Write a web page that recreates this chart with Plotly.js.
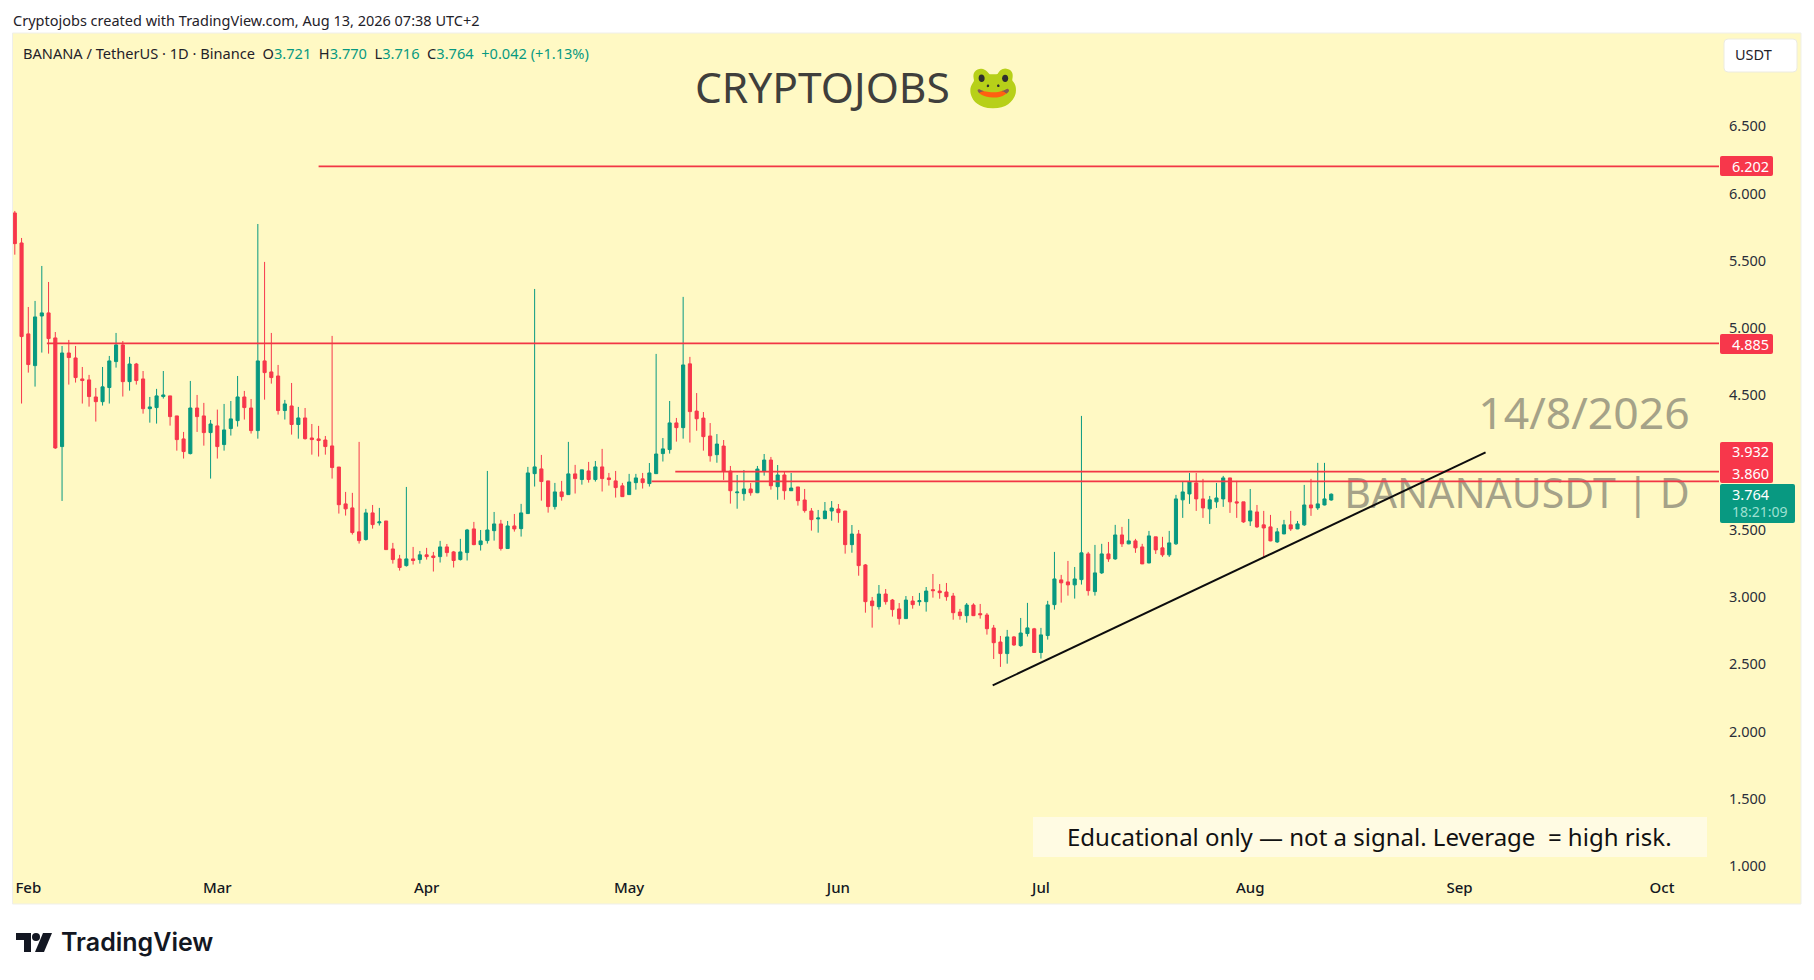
<!DOCTYPE html>
<html><head><meta charset="utf-8">
<script src="https://cdn.plot.ly/plotly-3.0.1.min.js"></script>
<style>html,body{margin:0;padding:0;background:#fff;overflow:hidden}#c{width:1814px;height:980px}</style>
</head><body><div id="c"></div>
<script>
const startDate = '2026-01-30';
const open = [5.855,5.632,4.956,4.720,5.089,5.112,4.926,4.118,4.814,4.777,4.621,4.614,4.487,4.452,4.557,4.750,4.874,4.601,4.732,4.621,
4.400,4.408,4.490,4.495,4.346,4.175,4.066,4.405,4.346,4.222,4.272,4.133,4.252,4.311,4.487,4.405,4.237,4.755,4.673,4.643,
4.386,4.420,4.282,4.331,4.182,4.175,4.167,4.123,3.966,3.692,3.662,3.484,3.427,3.625,3.551,3.565,3.357,3.283,3.233,3.283,
3.278,3.313,3.305,3.300,3.372,3.335,3.278,3.330,3.506,3.389,3.419,3.493,3.543,3.360,3.528,3.508,3.620,3.917,3.952,3.863,
3.672,3.781,3.761,3.915,3.873,3.937,3.873,3.967,3.885,3.863,3.826,3.761,3.850,3.878,3.843,3.917,4.066,4.096,4.294,4.259,
4.733,4.382,4.330,4.197,4.058,4.122,3.936,3.775,3.768,3.803,3.775,3.936,4.018,3.820,3.907,3.790,3.818,3.721,3.639,3.580,
3.582,3.639,3.654,3.639,3.389,3.468,3.238,2.970,2.928,3.022,2.977,2.911,2.839,2.970,2.965,2.965,3.054,3.044,3.037,3.007,
2.888,2.861,2.940,2.876,2.866,2.769,2.665,2.579,2.703,2.638,2.728,2.763,2.587,2.713,2.943,3.127,3.112,3.090,3.129,3.320,
3.040,3.179,3.320,3.283,3.461,3.395,3.417,3.372,3.253,3.447,3.365,3.313,3.395,3.722,3.766,3.848,3.729,3.655,3.707,3.729,
3.885,3.707,3.707,3.565,3.632,3.536,3.521,3.409,3.469,3.536,3.506,3.536,3.684,3.662,3.684,3.721];
const high = [5.870,5.669,5.156,5.201,5.461,5.342,4.970,4.866,4.911,4.866,4.710,4.651,4.554,4.710,4.792,4.963,4.903,4.785,4.740,4.680,
4.487,4.547,4.680,4.495,4.346,4.227,4.606,4.502,4.443,4.316,4.393,4.435,4.457,4.643,4.532,4.472,5.773,5.491,4.963,4.725,
4.465,4.591,4.413,4.405,4.286,4.272,4.197,4.941,3.966,3.781,3.774,4.153,3.655,3.684,3.662,3.565,3.402,3.313,3.818,3.372,
3.342,3.365,3.335,3.417,3.394,3.342,3.432,3.506,3.558,3.498,3.937,3.632,3.573,3.565,3.617,3.692,3.967,5.290,4.056,3.863,
3.848,3.863,4.153,3.982,3.945,4.004,4.011,4.101,3.922,3.937,3.848,3.915,3.915,3.922,3.996,4.807,4.182,4.457,4.331,5.231,
4.785,4.516,4.375,4.293,4.211,4.167,3.974,3.907,3.944,3.847,3.974,4.063,4.041,3.981,3.929,3.922,3.818,3.803,3.661,3.647,
3.706,3.713,3.691,3.639,3.535,3.498,3.245,3.000,3.089,3.059,2.985,2.955,3.007,3.007,3.030,3.074,3.171,3.096,3.104,3.030,
2.911,2.955,2.953,2.948,2.881,2.792,2.710,2.755,2.710,2.844,2.956,2.770,2.770,2.971,3.335,3.164,3.268,3.223,4.346,3.335,
3.387,3.395,3.409,3.536,3.521,3.580,3.432,3.395,3.491,3.447,3.447,3.491,3.759,3.855,3.922,3.922,3.878,3.751,3.848,3.900,
3.885,3.863,3.707,3.803,3.684,3.640,3.610,3.513,3.573,3.640,3.565,3.833,3.878,3.997,3.997,3.770];
const low = [5.545,4.438,4.668,4.564,4.817,4.809,4.101,3.714,4.579,4.594,4.438,4.415,4.304,4.423,4.438,4.705,4.490,4.534,4.579,4.363,
4.296,4.289,4.475,4.274,4.088,4.029,4.060,4.227,4.125,3.880,4.029,4.088,4.200,4.267,4.319,4.215,4.177,4.467,4.586,4.356,
4.319,4.207,4.177,4.170,4.058,4.044,4.058,3.880,3.620,3.605,3.464,3.397,3.419,3.508,3.531,3.350,3.248,3.196,3.226,3.241,
3.248,3.278,3.189,3.256,3.300,3.219,3.271,3.271,3.385,3.345,3.397,3.419,3.345,3.357,3.486,3.449,3.617,3.821,3.716,3.627,
3.650,3.716,3.758,3.769,3.835,3.850,3.858,3.784,3.828,3.739,3.743,3.758,3.798,3.806,3.821,3.914,4.007,4.066,4.155,4.177,
4.148,4.236,4.088,4.006,3.998,3.870,3.694,3.656,3.716,3.753,3.772,3.902,3.798,3.723,3.723,3.788,3.679,3.627,3.493,3.478,
3.580,3.567,3.552,3.322,3.329,3.158,2.883,2.772,2.906,2.943,2.854,2.794,2.836,2.913,2.935,2.891,2.995,2.987,2.972,2.831,
2.831,2.809,2.858,2.839,2.720,2.539,2.480,2.504,2.636,2.630,2.706,2.584,2.542,2.683,2.906,2.958,3.010,2.988,3.092,3.010,
3.010,3.171,3.261,3.276,3.372,3.392,3.328,3.244,3.250,3.320,3.298,3.298,3.387,3.588,3.692,3.640,3.588,3.543,3.662,3.670,
3.625,3.588,3.551,3.528,3.513,3.290,3.414,3.402,3.466,3.491,3.504,3.528,3.603,3.647,3.681,3.716];
const close = [5.627,4.936,4.728,5.082,5.112,4.921,4.108,4.814,4.780,4.631,4.609,4.490,4.452,4.562,4.755,4.874,4.601,4.732,4.609,4.400,
4.413,4.495,4.502,4.341,4.170,4.081,4.405,4.341,4.222,4.286,4.118,4.242,4.324,4.487,4.408,4.237,4.755,4.668,4.631,4.386,
4.435,4.282,4.331,4.177,4.170,4.163,4.118,3.962,3.686,3.655,3.479,3.419,3.625,3.538,3.558,3.352,3.278,3.219,3.283,3.271,
3.313,3.300,3.293,3.372,3.330,3.271,3.335,3.498,3.389,3.417,3.498,3.543,3.360,3.528,3.506,3.625,3.922,3.967,3.858,3.672,
3.781,3.746,3.915,3.880,3.945,3.873,3.967,3.880,3.873,3.813,3.746,3.855,3.885,3.850,3.922,4.063,4.101,4.294,4.259,4.725,
4.378,4.325,4.192,4.050,4.137,3.936,3.790,3.780,3.803,3.775,3.951,4.018,3.827,3.907,3.790,3.810,3.716,3.642,3.575,3.587,
3.639,3.661,3.627,3.389,3.468,3.233,2.965,2.935,3.022,2.965,2.906,2.839,2.977,2.943,2.972,3.044,3.047,3.032,3.002,2.883,
2.861,2.940,2.861,2.868,2.764,2.660,2.579,2.703,2.643,2.732,2.770,2.587,2.718,2.941,3.134,3.105,3.090,3.134,3.328,3.047,
3.179,3.320,3.283,3.461,3.395,3.417,3.365,3.246,3.454,3.350,3.313,3.402,3.729,3.781,3.858,3.729,3.662,3.722,3.736,3.885,
3.707,3.699,3.558,3.640,3.521,3.513,3.417,3.484,3.536,3.506,3.543,3.684,3.662,3.692,3.729,3.764];
const dates = open.map((_, i) => new Date(Date.parse(startDate + 'T00:00:00Z') + i * 864e5).toISOString().slice(0, 10));

const monthTicks = ['2026-02-01','2026-03-01','2026-04-01','2026-05-01','2026-06-01','2026-07-01','2026-08-01','2026-09-01','2026-10-01'];
const monthLabels = ['Feb','Mar','Apr','May','Jun','Jul','Aug','Sep','Oct'];
const priceTicks = [1,1.5,2,2.5,3,3.5,4,4.5,5,5.5,6,6.5];
const priceLabels = ['1.000','1.500','2.000','2.500','3.000','3.500','4.000','4.500','5.000','5.500','6.000','6.500'];
const xRange = ['2026-01-29 17:36','2026-10-09 10:30'];
const yRange = [0.970,7.193];
const levelRight = '2026-10-09 10:30';
const levels = [
  {price:6.202, from:'2026-03-16 00:00'},
  {price:4.885, from:'2026-02-03 18:00'},
  {price:3.932, from:'2026-05-07 20:00'},
  {price:3.860, from:'2026-05-04 08:00'}
];
const trendX = ['2026-06-23 20:24','2026-09-04 20:38'];
const trendY = [2.342,4.075];

const UP='#089981', DOWN='#F7374B', BG='#FFF9C4', TXT='#1f2229';
const FONT='"Noto Sans", sans-serif';
const L=13,R=1719,T=33,B=870;
const px=x=>(x-L)/(R-L), py=y=>1-(y-T)/(B-T);

const traces=[
 {type:'scatter',mode:'text',x:['2026-10-05 02:00'],y:[4.332],text:['14/8/2026'],textposition:'middle left',
  textfont:{family:FONT,size:44.5,color:'#A5A288'},hoverinfo:'skip',showlegend:false,cliponaxis:false},
 {type:'scatter',mode:'text',x:['2026-10-05 02:00'],y:[3.738],text:['BANANAUSDT | D'],textposition:'middle left',
  textfont:{family:FONT,size:41,color:'#A5A288'},hoverinfo:'skip',showlegend:false,cliponaxis:false},
 {type:'candlestick',x:dates,open:open,high:high,low:low,close:close,
  increasing:{line:{color:UP,width:1},fillcolor:UP},decreasing:{line:{color:DOWN,width:1},fillcolor:DOWN},
  whiskerwidth:0,showlegend:false,hoverinfo:'skip'},
 ...levels.map(l=>({type:'scatter',mode:'lines',x:[l.from,levelRight],y:[l.price,l.price],
   line:{color:'#F23645',width:1.8},showlegend:false,hoverinfo:'skip'})),
 {type:'scatter',mode:'lines',x:trendX,y:trendY,line:{color:'#0d0d0d',width:2},showlegend:false,hoverinfo:'skip'}
];

function rect(x0,y0,x1,y1,fill,line,layer){return {type:'rect',xref:'paper',yref:'paper',x0:px(x0),x1:px(x1),y0:py(y1),y1:py(y0),fillcolor:fill,line:{width:line?1:0,color:line||fill},layer:layer||'above'};}
function rr(x0,y0,x1,y1,r,fill,line){
 const P=(x,y)=>px(x)+' '+py(y);
 return {type:'path',xref:'paper',yref:'paper',fillcolor:fill,line:{width:line?1:0,color:line||fill},layer:'above',
  path:'M '+P(x0+r,y0)+' L '+P(x1-r,y0)+' Q '+P(x1,y0)+' '+P(x1,y0+r)+' L '+P(x1,y1-r)+' Q '+P(x1,y1)+' '+P(x1-r,y1)+' L '+P(x0+r,y1)+' Q '+P(x0,y1)+' '+P(x0,y1-r)+' L '+P(x0,y0+r)+' Q '+P(x0,y0)+' '+P(x0+r,y0)+' Z'};
}
function poly(pts,fill){return {type:'path',xref:'paper',yref:'paper',fillcolor:fill,line:{width:0},layer:'above',
  path:'M '+pts.map(p=>px(p[0])+' '+py(p[1])).join(' L ')+' Z'};}
const shapes=[
 rect(12.5,33,1801,904,BG,'#EFEFEA','below'),
 rect(1033,817,1707,857,'#FFFBE3'),
 rr(1724,39,1797,72,4,'#FFFFFF','#ECEBE0'),
 rr(1720,156,1773,176,2,DOWN),
 rr(1720,334,1773,354,2,DOWN),
 rr(1720,442,1773,483,2,DOWN),
 rr(1720,484,1795,523,2,UP),
 poly([[16,933],[31,933],[31,952],[24,952],[24,940],[16,940]],'#131722'),
 poly([[43,933],[52,933],[44,952],[35,952]],'#131722'),
 {type:'circle',xref:'paper',yref:'paper',x0:px(32),x1:px(40),y0:py(941),y1:py(933),fillcolor:'#131722',line:{width:0},layer:'above'}
];
function A(text,x,y,size,color,anchor,extra){return Object.assign({text:text,xref:'paper',yref:'paper',x:px(x),y:py(y),xanchor:anchor||'left',yanchor:'middle',
  showarrow:false,font:{family:FONT,size:size,color:color},borderpad:0},extra||{});}
const g=s=>'<span style="color:'+UP+'">'+s+'</span>';
const annotations=[
 A('Cryptojobs created with TradingView.com, Aug 13, 2026 07:38 UTC+2',12,19.5,14.5,TXT),
 A('BANANA / TetherUS · 1D · Binance  O'+g('3.721')+'  H'+g('3.770')+'  L'+g('3.716')+'  C'+g('3.764')+'  '+g('+0.042 (+1.13%)'),22,53,14.6,TXT),
 A('CRYPTOJOBS',694,86,42.5,'#3F3F3C'),
 A('🐸',993,86,42,'#000','center',{font:{family:'"Noto Color Emoji", "Noto Sans"',size:42,color:'#000'}}),
 A('USDT',1753,54,14.5,TXT,'center'),
 A('6.202',1731,166,14.5,'#fff'),
 A('4.885',1731,344,14.5,'#fff'),
 A('3.932',1731,451,14.5,'#fff'),
 A('3.860',1731,473,14.5,'#fff'),
 A('3.764',1731,494,14.5,'#fff'),
 A('18:21:09',1731,511,14,'#9FE0D2'),
 A('Educational only — not a signal. Leverage  = high risk.',1369,836.5,24,'#111','center'),
 A('TradingView',60,942,25,'#131722','left',{font:{family:'Inter, sans-serif',size:25,color:'#131722',weight:600}})
];
const layout={width:1814,height:980,margin:{l:L,r:1814-R,t:T,b:980-B,pad:0},paper_bgcolor:'#FFFFFF',plot_bgcolor:BG,showlegend:false,
 boxgap:0.34,
 xaxis:{type:'date',range:xRange,rangeslider:{visible:false},showgrid:false,zeroline:false,showline:false,ticks:'',
   tickmode:'array',tickvals:monthTicks,ticktext:monthLabels,tickfont:{family:FONT,size:15,color:'#131722',weight:500},ticklabelstandoff:7},
 yaxis:{type:'linear',side:'right',range:yRange,showgrid:false,zeroline:false,showline:false,ticks:'',
   tickmode:'array',tickvals:priceTicks,ticktext:priceLabels,tickfont:{family:FONT,size:14.5,color:'#2a2e39'},ticklabelstandoff:9},
 shapes:shapes,annotations:annotations,hovermode:false};
Plotly.newPlot('c',traces,layout,{staticPlot:true,displayModeBar:false});
</script></body></html>
